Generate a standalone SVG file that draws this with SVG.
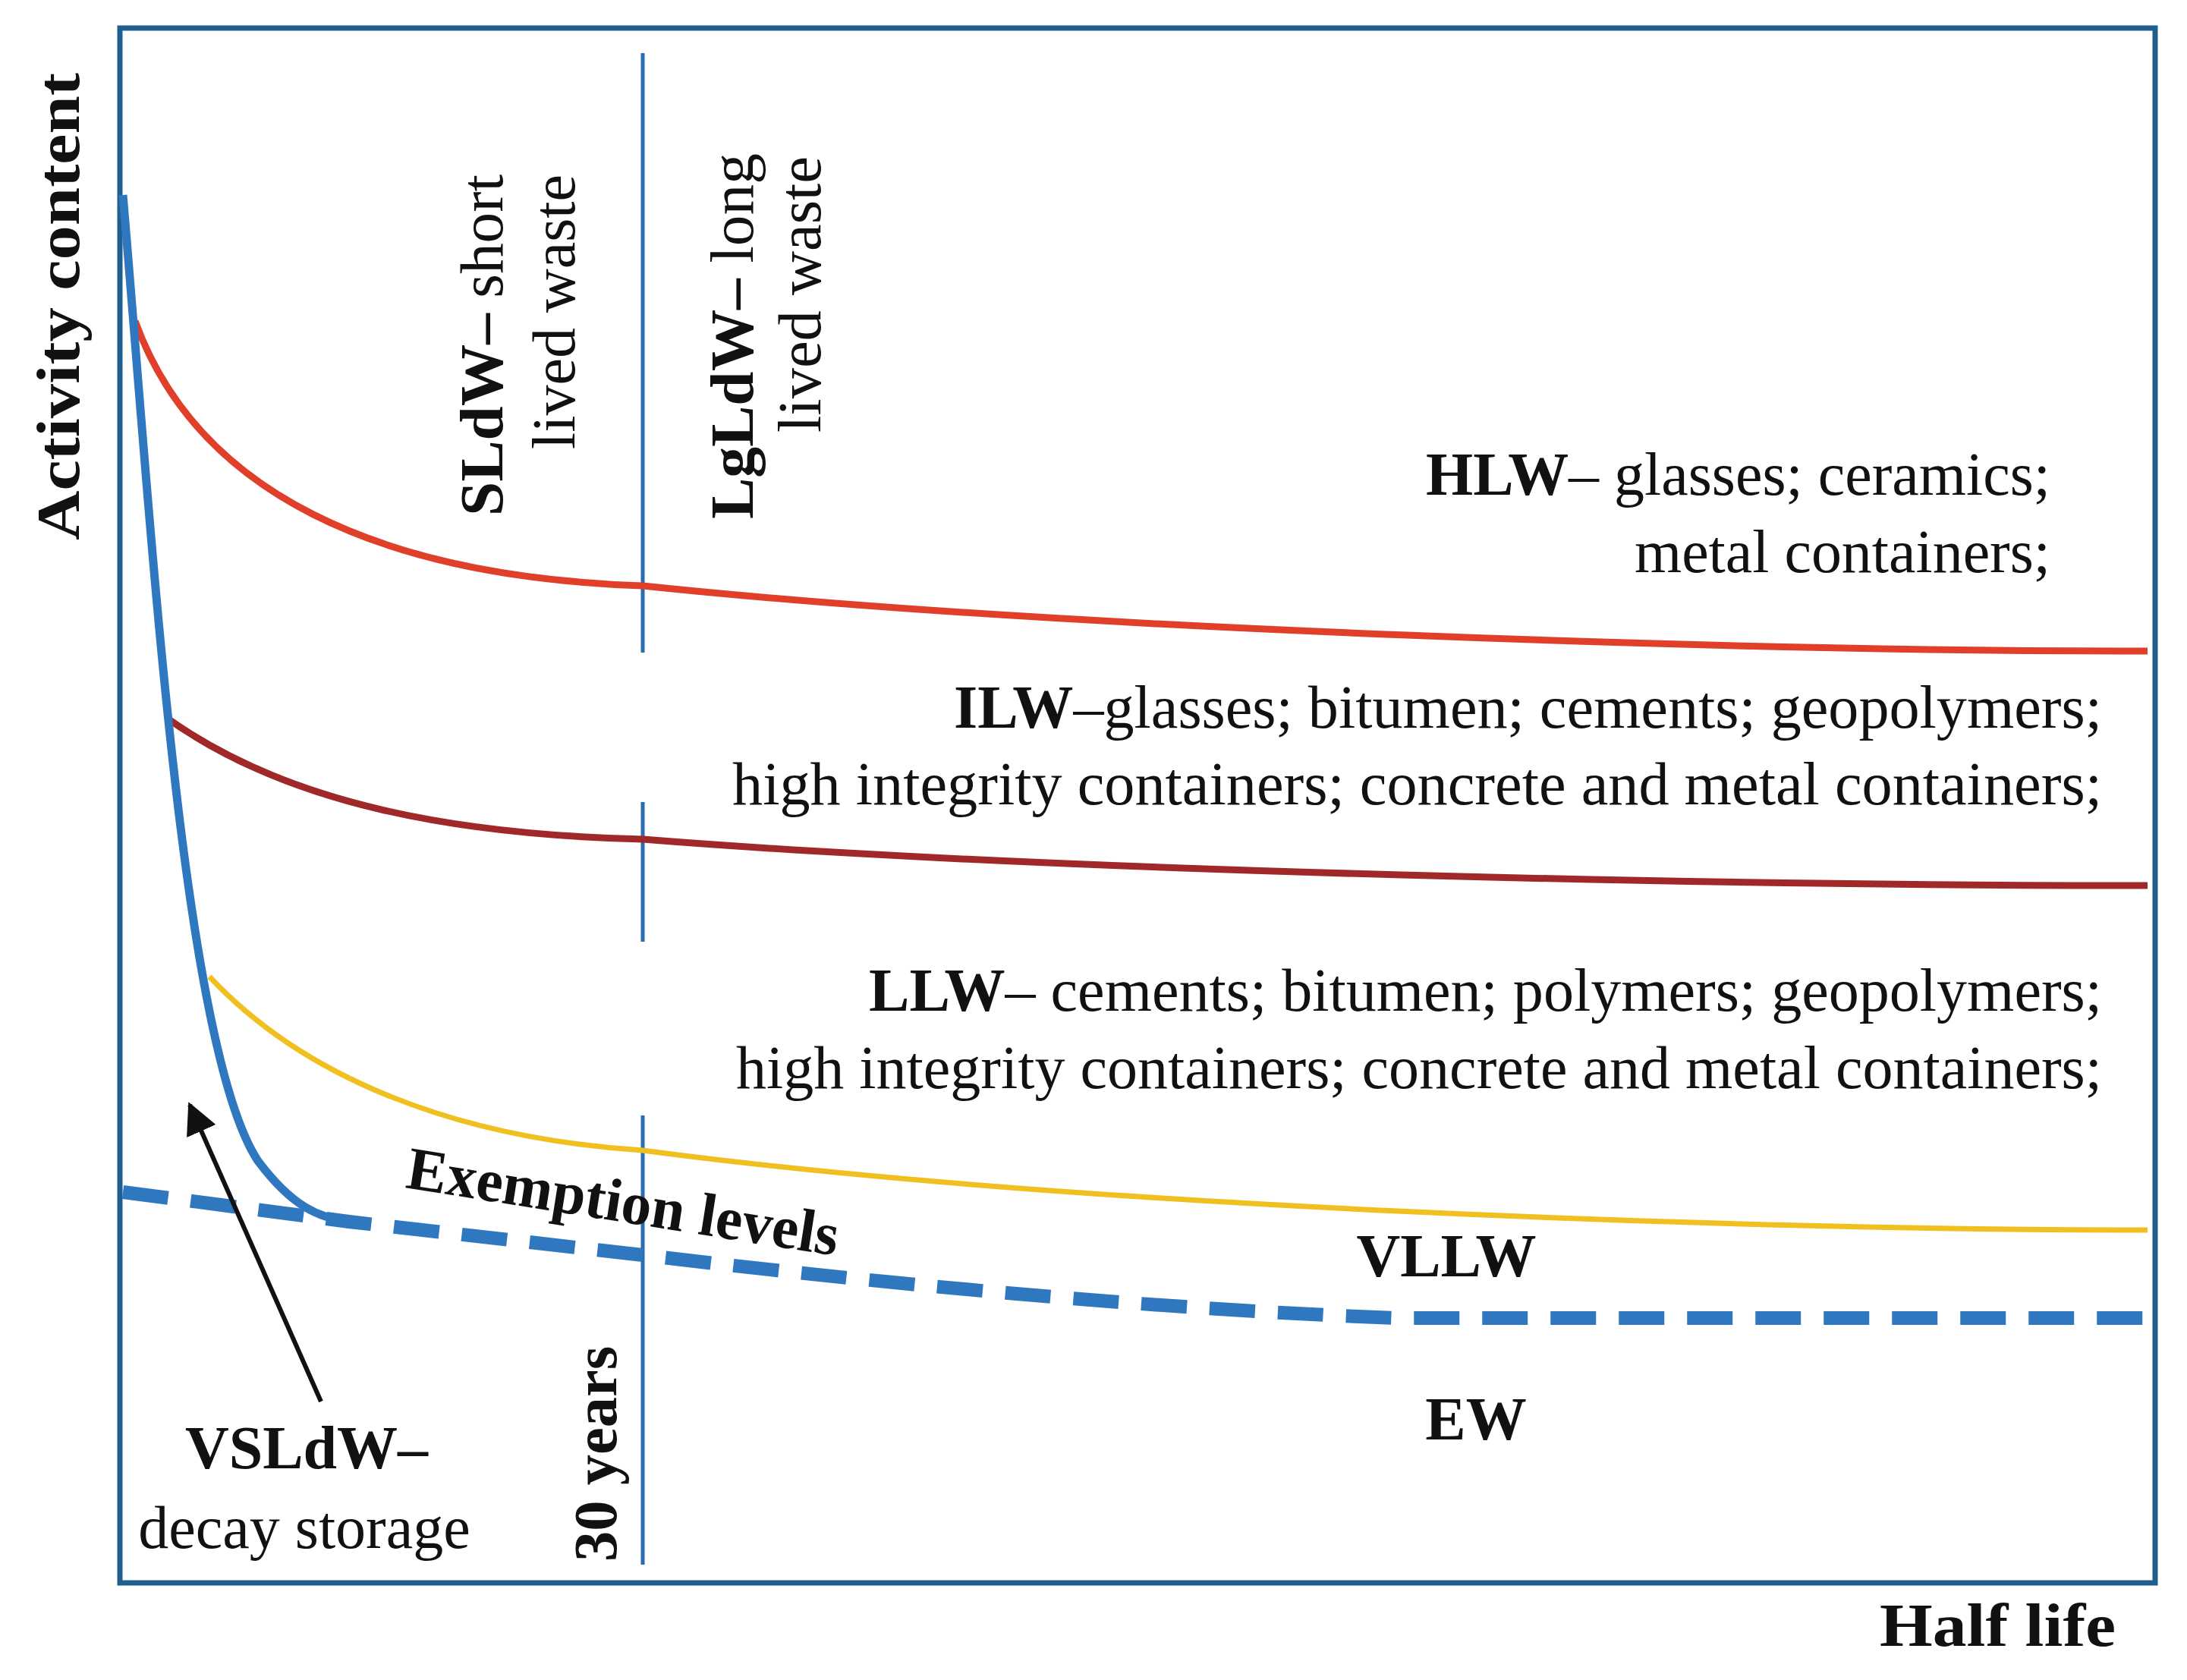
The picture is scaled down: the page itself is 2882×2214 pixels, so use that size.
<svg xmlns="http://www.w3.org/2000/svg" width="2882" height="2214" viewBox="0 0 2882 2214">
<defs>
<style>
text{font-family:"Liberation Serif","Times New Roman",serif;font-size:80px;fill:#111}
.b{font-weight:bold}
.vl{stroke:#2a6cb0;stroke-width:5;fill:none}
</style>
<marker id="ah" viewBox="0 0 10 10" refX="9" refY="5" markerWidth="7" markerHeight="7" orient="auto"><path d="M0,0L10,5L0,10z" fill="#111"/></marker>
</defs>
<rect width="2882" height="2214" fill="#fff"/>
<g id="frame"><rect x="158" y="37" width="2682" height="2049" fill="none" stroke="#1f5f8f" stroke-width="7"/></g>
<g id="connectors">
<path class="vl" d="M847,70V860M847,1057V1241M847,1470V2062"/>
<path d="M178,423C260,650 500,760 847,772C1400,830 2300,858 2830,858" fill="none" stroke="#e0402a" stroke-width="9"/>
<path d="M221,947C380,1060 600,1100 847,1106C1400,1150 2300,1167 2830,1167" fill="none" stroke="#a02828" stroke-width="9"/>
<path d="M276,1287C400,1420 600,1500 847,1516C1400,1590 2300,1621 2830,1621" fill="none" stroke="#f0c020" stroke-width="7"/>
<path d="M162,257C200,700 240,1380 340,1530C385,1590 420,1605 460,1610" fill="none" stroke="#2f78c0" stroke-width="11"/>
<path d="M162,1571L460,1610L847,1654Q1400,1720 1838,1737L2830,1737" fill="none" stroke="#2f78c0" stroke-width="18" stroke-dasharray="60,30"/>
<line x1="423" y1="1847" x2="250" y2="1456" stroke="#111" stroke-width="6" marker-end="url(#ah)"/>
</g>
<g id="labels">
<text class="b" transform="translate(104,404) rotate(-90)" text-anchor="middle" font-size="88" textLength="616" lengthAdjust="spacingAndGlyphs">Activity content</text>
<text transform="translate(662,230) rotate(-90)" text-anchor="end" textLength="450" lengthAdjust="spacingAndGlyphs"><tspan class="b">SLdW–</tspan> short</text>
<text transform="translate(757,230) rotate(-90)" text-anchor="end" textLength="362" lengthAdjust="spacingAndGlyphs">lived waste</text>
<text transform="translate(992,202) rotate(-90)" text-anchor="end" textLength="482" lengthAdjust="spacingAndGlyphs"><tspan class="b">LgLdW–</tspan> long</text>
<text transform="translate(1081,206) rotate(-90)" text-anchor="end" textLength="364" lengthAdjust="spacingAndGlyphs">lived waste</text>
<text class="b" transform="translate(812,2058) rotate(-90)" textLength="284" lengthAdjust="spacingAndGlyphs">30 years</text>
<text x="2702" y="652" text-anchor="end" textLength="823" lengthAdjust="spacingAndGlyphs"><tspan class="b">HLW</tspan>– glasses; ceramics;</text>
<text x="2702" y="754" text-anchor="end" textLength="548" lengthAdjust="spacingAndGlyphs">metal containers;</text>
<text x="1257" y="959" textLength="1513" lengthAdjust="spacingAndGlyphs"><tspan class="b">ILW</tspan>–glasses; bitumen; cements; geopolymers;</text>
<text x="965" y="1060" textLength="1805" lengthAdjust="spacingAndGlyphs">high integrity containers; concrete and metal containers;</text>
<text x="1145" y="1332" textLength="1625" lengthAdjust="spacingAndGlyphs"><tspan class="b">LLW</tspan>– cements; bitumen; polymers; geopolymers;</text>
<text x="970" y="1434" textLength="1800" lengthAdjust="spacingAndGlyphs">high integrity containers; concrete and metal containers;</text>
<text class="b" transform="translate(533,1565) rotate(9)" textLength="575" lengthAdjust="spacingAndGlyphs" font-size="72">Exemption levels</text>
<text class="b" x="1906" y="1682" text-anchor="middle">VLLW</text>
<text class="b" x="1945" y="1897" text-anchor="middle">EW</text>
<text class="b" x="404" y="1935" text-anchor="middle">VSLdW–</text>
<text x="401" y="2040" text-anchor="middle">decay storage</text>
<text class="b" x="2788" y="2169" text-anchor="end" font-size="100" textLength="311" lengthAdjust="spacingAndGlyphs">Half life</text>
</g>
</svg>
